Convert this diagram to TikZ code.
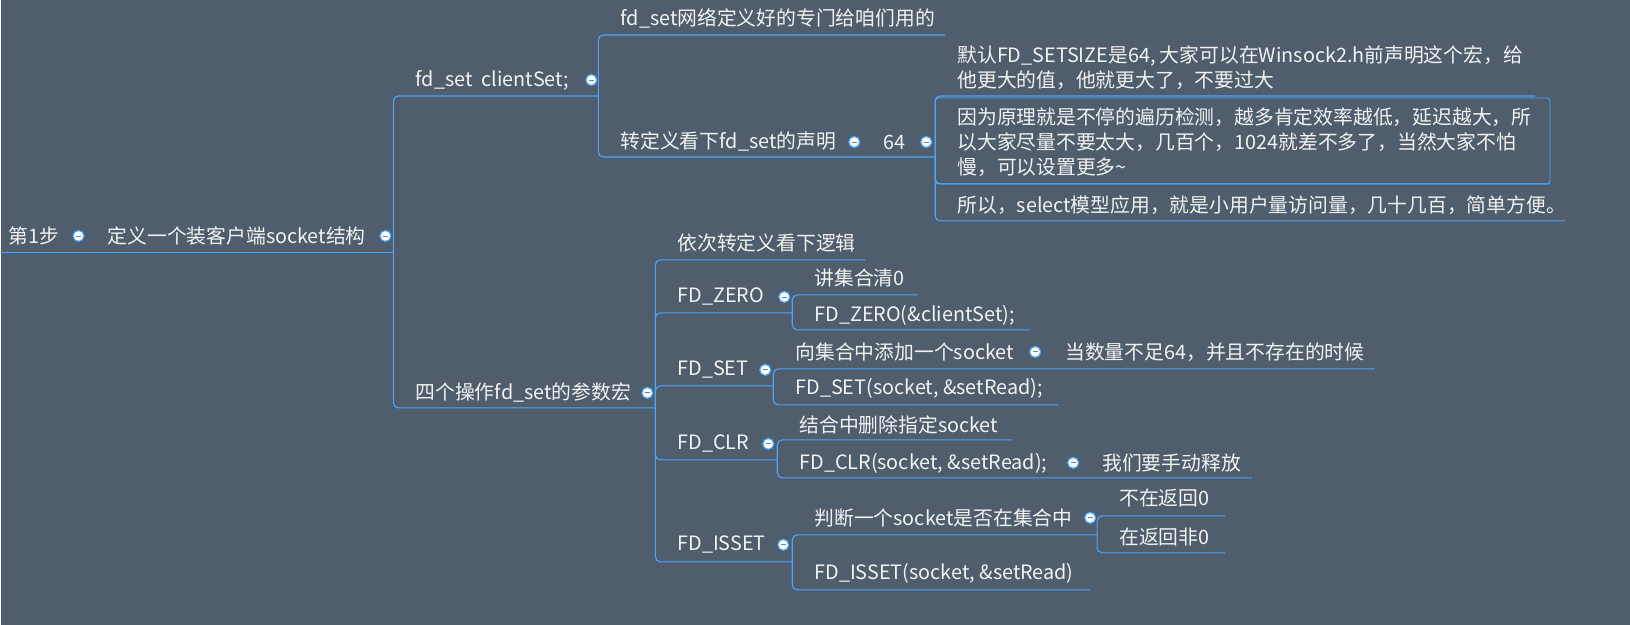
\documentclass[tikz,border=0pt]{standalone}
\usepackage{fontspec}
\setmainfont{Noto Sans CJK SC}
\begin{document}
\begin{tikzpicture}[x=1pt,y=-1pt,
  txt/.style={anchor=west,inner sep=0pt,text=white!95!black,font=\fontsize{19.8}{25}\selectfont,align=left},
  ln/.style={draw=blue!50!cyan!70!white,line width=1.1pt,rounded corners=5pt},
  tog/.style={circle,draw=blue!50!cyan!70!white,fill=white,line width=1.2pt,minimum size=11pt,inner sep=0pt,
    path picture={\draw[gray,line width=0.8pt](path picture bounding box.center)++(-2.5pt,0)--++(5pt,0);}}]
\fill[fill={rgb,255:red,79;green,93;blue,108}] (0,0) rectangle (1630,625);
% root
\node[txt] (t0) at (8,236) {第1步};
\node[tog] (c0) at (78,236) {};
\draw[ln] (0,253) coordinate (s0) -- (75,253) coordinate (e0);
\node[txt] (t1) at (107,236) {定义一个装客户端socket结构};
\node[tog] (c1) at (385,236) {};
\draw[ln] (e0) -- (393,253) coordinate (e1);
% level 2
\node[txt] (t2) at (415,80) {fd\_set\ \ clientSet;};
\node[tog] (c2) at (591,80) {};
\coordinate (e2) at (598,96);
\draw[ln] (e1) |- (e2);
\node[txt] (t3) at (415,393) {四个操作fd\_set的参数宏};
\node[tog] (c3) at (647,393) {};
\coordinate (e3) at (655,408);
\draw[ln] (e1) |- (e3);
% fd_set children
\node[txt] (t4) at (620,18) {fd\_set网络定义好的专门给咱们用的};
\coordinate (e4) at (945,35);
\draw[ln] (e2) |- (e4);
\node[txt] (t5) at (620,142) {转定义看下fd\_set的声明};
\node[tog] (c5) at (854,142) {};
\node[txt] (t6) at (883,142) {64};
\node[tog] (c6) at (926,142) {};
\coordinate (e6) at (935,157);
\draw[ln] (e2) |- (e6);
\node[txt] (t7) at (957,68) {默认FD\_SETSIZE是64, 大家可以在Winsock2.h前声明这个宏，给\\他更大的值，他就更大了，不要过大};
\coordinate (e7) at (1535,96);
\draw[ln] (e6) |- (e7);
\node[txt] (t8) at (957,142) {因为原理就是不停的遍历检测，越多肯定效率越低，延迟越大，所\\以大家尽量不要太大，几百个，1024就差不多了，当然大家不怕\\慢，可以设置更多\textasciitilde};
\coordinate (e8) at (1550,184);
\draw[ln] (e6) |- (e8);
\draw[ln,line width=0.9pt,rounded corners=3pt] (935,98) rectangle (1550,184);
\node[txt] (t9) at (957,205) {所以，select模型应用，就是小用户量访问量，几十几百，简单方便。};
\coordinate (e9) at (1565,221);
\draw[ln] (e6) |- (e9);
% macros
\node[txt] (ta) at (677,243) {依次转定义看下逻辑};
\coordinate (ea) at (865,260);
\draw[ln] (e3) |- (ea);
\node[txt] (tb) at (677,297) {FD\_ZERO};
\node[tog] (cb) at (784,297) {};
\coordinate (eb) at (792,313);
\draw[ln] (e3) |- (eb);
\node[txt] (tc) at (677,370) {FD\_SET};
\node[tog] (cc) at (765,370) {};
\coordinate (ec) at (773,386);
\draw[ln] (e3) |- (ec);
\node[txt] (td) at (677,444) {FD\_CLR};
\node[tog] (cd) at (768,444) {};
\coordinate (ed) at (777,460);
\draw[ln] (e3) |- (ed);
\node[txt] (te) at (677,545) {FD\_ISSET};
\node[tog] (ce) at (783,545) {};
\coordinate (ee) at (792,562);
\draw[ln] (e3) |- (ee);
% FD_ZERO
\node[txt] (tb1) at (814,278) {讲集合清0};
\coordinate (eb1) at (917,295);
\draw[ln] (eb) |- (eb1);
\node[txt] (tb2) at (814,315) {FD\_ZERO(\&clientSet);};
\coordinate (eb2) at (1030,330);
\draw[ln] (eb) |- (eb2);
% FD_SET
\node[txt] (tc1) at (795,352) {向集合中添加一个socket};
\node[tog] (cc1) at (1035,352) {};
\node[txt] (tc3) at (1065,352) {当数量不足64，并且不存在的时候};
\coordinate (ec1) at (1375,369);
\draw[ln] (ec) |- (ec1);
\node[txt] (tc2) at (795,388) {FD\_SET(socket, \&setRead);};
\coordinate (ec2) at (1058,405);
\draw[ln] (ec) |- (ec2);
% FD_CLR
\node[txt] (td1) at (799,425) {结合中删除指定socket};
\coordinate (ed1) at (1012,440);
\draw[ln] (ed) |- (ed1);
\node[txt] (td2) at (799,463) {FD\_CLR(socket, \&setRead);};
\node[tog] (cd2) at (1073,463) {};
\node[txt] (td3) at (1102,463) {我们要手动释放};
\coordinate (ed2) at (1252,478);
\draw[ln] (ed) |- (ed2);
% FD_ISSET
\node[txt] (te1) at (814,518) {判断一个socket是否在集合中};
\node[tog] (ce1) at (1090,518) {};
\coordinate (ee1) at (1097,535);
\draw[ln] (ee) |- (ee1);
\node[txt] (te2) at (814,574) {FD\_ISSET(socket, \&setRead)};
\coordinate (ee2) at (1090,590);
\draw[ln] (ee) |- (ee2);
\node[txt] (te3) at (1119,498) {不在返回0};
\coordinate (ee3) at (1225,516);
\draw[ln] (ee1) |- (ee3);
\node[txt] (te4) at (1119,537) {在返回非0};
\coordinate (ee4) at (1225,553);
\draw[ln] (ee1) |- (ee4);
\end{tikzpicture}
\end{document}
